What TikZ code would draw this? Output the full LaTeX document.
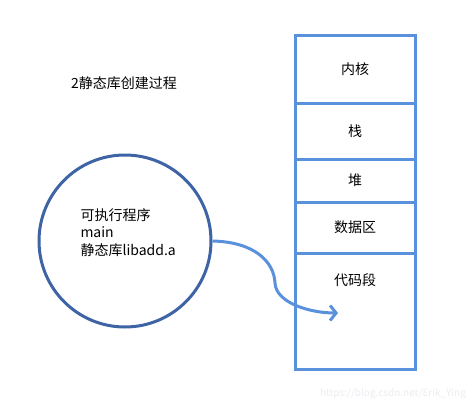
\documentclass[tikz,border=0pt]{standalone}
\usepackage{fontspec}
\setmainfont{Noto Sans CJK SC}
\usetikzlibrary{arrows.meta,positioning}
\definecolor{segblue}{RGB}{90,145,220}
\definecolor{circblue}{RGB}{62,100,165}
\definecolor{markgray}{RGB}{234,236,240}
\tikzstyle{segment} = [draw=segblue, line width=3pt, minimum width=120pt, inner sep=0pt, outer sep=0pt]
\tikzstyle{arrow} = [line width=3pt, -{Straight Barb[length=6pt,width=15pt]}, color=segblue]

\begin{document}
\begin{tikzpicture}[x=1pt, y=-1pt, font=\fontsize{14}{17.5}\selectfont]
\useasboundingbox (0,0) rectangle (474,407);
% Title
\node (title) at (124,83) {2静态库创建过程};

% Memory layout
\node[segment, minimum height=68pt] (kernel) at (355,69) {内核};
\node[segment, minimum height=56pt, below=0pt of kernel] (stack) {栈};
\node[segment, minimum height=43pt, below=0pt of stack] (heap) {堆};
\node[segment, minimum height=51pt, below=0pt of heap] (data) {数据区};
\node[segment, minimum height=116pt, below=0pt of data,
  label={[anchor=north, yshift=-17pt]north:代码段}] (code) {};

% Program
\node[draw=circblue, line width=3pt, circle, minimum size=172pt] (prog) at (125,241) {};
\node[align=left, anchor=west] (progtext) at (77,232.5) {可执行程序\\main\\静态库libadd.a};

% Arrow
\coordinate (codein) at (338,313);
\draw[arrow] (prog.east) .. controls (255,242) and (274,262) .. (275,283)
  .. controls (276,303) and (310,313) .. (codein);

% Watermark
\node[text=markgray, font=\fontsize{10}{12}\selectfont] (mark) at (393,394) {https://blog.csdn.net/Erik\_Ying};
\end{tikzpicture}
\end{document}
